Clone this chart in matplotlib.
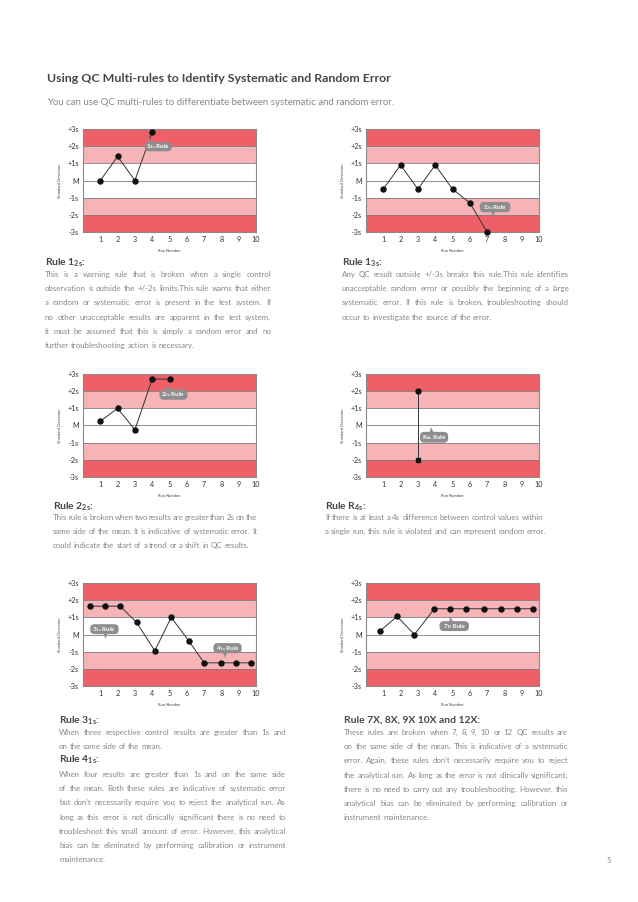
import matplotlib.pyplot as plt
from matplotlib.patches import FancyBboxPatch, Polygon

plt.rcParams['font.family'] = ['Lato', 'DejaVu Sans']
plt.rcParams['mathtext.fontset'] = 'custom'
plt.rcParams['mathtext.rm'] = 'Lato'
plt.rcParams['mathtext.bf'] = 'Lato:bold'

# 数据
runs = list(range(1, 11))
sd_ticks = [3, 2, 1, 0, -1, -2, -3]
sd_labels = ['+3s', '+2s', '+1s', 'M', '-1s', '-2s', '-3s']

r12s_x = [1, 2, 3, 4]
r12s_y = [0, 1.4, 0, 2.85]
r13s_x = [1, 2, 3, 4, 5, 6, 7]
r13s_y = [-0.5, 0.9, -0.5, 0.9, -0.5, -1.3, -3.0]
r22s_x = [1, 2, 3, 4, 5]
r22s_y = [0.25, 1.0, -0.25, 2.7, 2.7]
r4s_x = [3, 3]
r4s_y = [2, -2]
r41s_x = [0.4, 1.3, 2.15, 3.1, 4.15, 5.1, 6.1, 7.0, 7.95, 8.85, 9.7]
r41s_y = [1.65, 1.65, 1.65, 0.7, -0.95, 1.0, -0.35, -1.65, -1.65, -1.65, -1.65]
r7x_x = [0.8, 1.8, 2.8, 3.95, 4.85, 5.8, 6.8, 7.8, 8.75, 9.65]
r7x_y = [0.2, 1.05, 0, 1.5, 1.5, 1.5, 1.5, 1.5, 1.5, 1.5]

title = 'Using QC Multi-rules to Identify Systematic and Random Error'
subtitle = 'You can use QC multi-rules to differentiate between systematic and random error.'

h12s = r'Rule 1$_{\mathbf{2s}}$:'
t12s = ['This is a warning rule that is broken when a single control',
        'observation is outside the +/-2s limits.This rule warns that either',
        'a random or systematic error is present in the test system. If',
        'no other unacceptable results are apparent in the test system,',
        'it must be assumed that this is simply a random error and no',
        'further troubleshooting action is necessary.']
h13s = r'Rule 1$_{\mathbf{3s}}$:'
t13s = ['Any QC result outside +/-3s breaks this rule.This rule identifies',
        'unacceptable random error or possibly the beginning of a large',
        'systematic error. If this rule is broken, troubleshooting should',
        'occur to investigate the source of the error.']
h22s = r'Rule 2$_{\mathbf{2s}}$:'
t22s = ['This rule is broken when two results are greater than 2s on the',
        'same side of the mean. It is indicative of systematic error.  It',
        'could indicate the start of a trend or a shift in QC results.']
h4s = r'Rule R$_{\mathbf{4s}}$:'
t4s = ['If there is at least a 4s difference between control values within',
       'a single run, this rule is violated and can represent random error.']
h31s = r'Rule 3$_{\mathbf{1s}}$:'
t31s = ['When three respective control results are greater than 1s and',
        'on the same side of the mean.']
h41s = r'Rule 4$_{\mathbf{1s}}$:'
t41s = ['When four results are greater than 1s and on the same side',
        'of the mean. Both these rules are indicative of systematic error',
        "but don't necessarily require you to reject the analytical run. As",
        'long as this error is not clinically significant there is no need to',
        'troubleshoot this small amount of error. However, this analytical',
        'bias can be eliminated by performing calibration or instrument',
        'maintenance.']
h7x = 'Rule 7X, 8X, 9X 10X and 12X:'
t7x = ['These rules are broken when 7, 8, 9, 10 or 12 QC results are',
       'on the same side of the mean. This is indicative of a systematic',
       "error. Again, these rules don't necessarily require you to reject",
       'the analytical run. As long as the error is not clinically significant,',
       'there is no need to carry out any troubleshooting. However, this',
       'analytical bias can be eliminated by performing calibration or',
       'instrument maintenance.']

W, H = 638, 902
fig = plt.figure(figsize=(W / 100, H / 100), dpi=100)

DARK = '#ef5f67'
LIGHT = '#f6b4b7'
BODY = '#878787'
HEAD = '#474747'


def fx(px):
    return px / W


def fy(py):
    return 1 - py / H


def chart(left, top, xs, ys, square=False):
    ax = fig.add_axes([fx(left), fy(top + 103), 173 / W, 103 / H])
    ax.axhspan(2, 3, color=DARK, lw=0)
    ax.axhspan(1, 2, color=LIGHT, lw=0)
    ax.axhspan(-2, -1, color=LIGHT, lw=0)
    ax.axhspan(-3, -2, color=DARK, lw=0)
    for v in sd_ticks:
        ax.axhline(v, color='#7d7d7d', lw=0.6, zorder=1)
    ax.set_xlim(0, 10)
    ax.set_ylim(-3, 3)
    ax.set_yticks(sd_ticks, sd_labels)
    ax.set_xticks(runs, [str(r) for r in runs])
    ax.tick_params(length=0, labelsize=5.2, colors='#333333', pad=3)
    for s in ax.spines.values():
        s.set_color('#8a8a8a')
        s.set_linewidth(0.8)
    ax.set_xlabel('Run Number', fontsize=3, color='#444444', labelpad=4)
    ax.set_ylabel('Standard Deviation', fontsize=3, color='#444444', labelpad=4)
    if square:
        ax.plot(xs, ys, color='#333333', lw=0.7, zorder=4)
        ax.plot(xs[0], ys[0], 'o', color='#111111', ms=3.6, zorder=5, clip_on=False)
        ax.plot(xs[1], ys[1], 's', color='#111111', ms=3.4, zorder=5, clip_on=False)
    else:
        ax.plot(xs, ys, color='#333333', lw=0.7, marker='o', ms=3.6,
                mfc='#111111', mec='#111111', zorder=5, clip_on=False)
    return ax


def callout(ax, x0, x1, y0, y1, label, tx, up):
    box = FancyBboxPatch((x0, y0), x1 - x0, y1 - y0,
                         boxstyle='round,pad=0,rounding_size=0.25',
                         fc='#8e8e8e', ec='none', zorder=6)
    ax.add_patch(box)
    if up:
        tri = [(tx - 0.12, y1 - 0.05), (tx + 0.12, y1 - 0.05), (tx - 0.05, y1 + 0.28)]
    else:
        tri = [(tx - 0.12, y0 + 0.05), (tx + 0.12, y0 + 0.05), (tx + 0.02, y0 - 0.28)]
    ax.add_patch(Polygon(tri, closed=True, fc='#8e8e8e', ec='none', zorder=6))
    ax.text((x0 + x1) / 2, (y0 + y1) / 2, label, color='white', fontsize=4.5,
            fontweight='bold', ha='center', va='center', zorder=7)


ax1 = chart(83, 129, r12s_x, r12s_y)
callout(ax1, 3.56, 5.13, 1.7, 2.24, r'1$_{\mathbf{2s}}$ Rule', 3.85, True)
ax2 = chart(366, 129, r13s_x, r13s_y)
callout(ax2, 6.58, 8.35, -1.85, -1.25, r'1$_{\mathbf{3s}}$ Rule', 7.35, False)
ax3 = chart(83, 374, r22s_x, r22s_y)
callout(ax3, 4.42, 6.04, 1.5, 2.1, r'2$_{\mathbf{2s}}$ Rule', 5.0, True)
ax4 = chart(366, 374, r4s_x, r4s_y, square=True)
callout(ax4, 3.12, 4.75, -1.0, -0.37, r'R$_{\mathbf{4s}}$ Rule', 3.8, True)
ax5 = chart(83, 583, r41s_x, r41s_y)
callout(ax5, 0.42, 2.06, 0.02, 0.6, r'3$_{\mathbf{1s}}$ Rule', 1.29, False)
callout(ax5, 7.54, 9.17, -1.09, -0.5, r'4$_{\mathbf{1s}}$ Rule', 8.2, False)
ax6 = chart(366, 583, r7x_x, r7x_y)
callout(ax6, 4.25, 5.95, 0.2, 0.78, '7x Rule', 4.92, True)

renderer = fig.canvas.get_renderer()


def width(s, size, weight='normal'):
    t = fig.text(0, 0, s, fontsize=size, fontweight=weight)
    w = t.get_window_extent(renderer).width
    t.remove()
    return w


def space(size):
    return width('a a', size) - width('aa', size)


# 正文段落：文本、左右边界、起始基线、是否两端对齐
paras = [
    (t12s, 45, 271, 277, True),
    (t13s, 342, 569, 277, True),
    (t22s, 53, 257, 520, True),
    (t4s, 325, 521, 520, False),
    (t31s, 59, 286, 735, True),
    (t41s, 59, 286, 777, True),
    (t7x, 344, 568, 735, True),
]

# 找一个让两端对齐的行都放得下的字号
base = 6.0
scale = 1.0
sp = space(base)
for lines, x0, x1, y0, just in paras:
    if not just:
        continue
    for line in lines:
        words = line.split()
        need = sum(width(w, base) for w in words) + (len(words) - 1) * sp * 0.45
        scale = min(scale, (x1 - x0) / need)
body_size = base * scale


def paragraph(lines, x0, x1, y0, justify, lh=14.2, size=body_size):
    gap0 = space(size)
    for i, line in enumerate(lines):
        words = line.split()
        ws = [width(w, size) for w in words]
        if justify and i < len(lines) - 1 and len(words) > 1:
            gap = (x1 - x0 - sum(ws)) / (len(words) - 1)
        else:
            gap = gap0
        x = x0
        for w, ww in zip(words, ws):
            fig.text(fx(x), fy(y0 + i * lh), w, fontsize=size, color=BODY, va='baseline')
            x += ww + gap


def heading(s, x, y):
    fig.text(fx(x), fy(y), s, fontsize=7.4, fontweight='bold', color=HEAD, va='baseline')


fig.text(fx(47), fy(82), title, fontsize=8.9, fontweight='bold', color=HEAD, va='baseline')
fig.text(fx(47), fy(105), subtitle, fontsize=6.9, color=BODY, va='baseline')

heading(h12s, 45, 265)
heading(h13s, 342, 265)
heading(h22s, 53, 509)
heading(h4s, 325, 509)
heading(h31s, 59, 723)
heading(h41s, 59, 762)
heading(h7x, 344, 723)

for lines, x0, x1, y0, just in paras:
    paragraph(lines, x0, x1, y0, just)

fig.text(fx(607), fy(863), '5', fontsize=5.5, color=BODY, va='baseline')

plt.savefig('out.png', dpi=100)
